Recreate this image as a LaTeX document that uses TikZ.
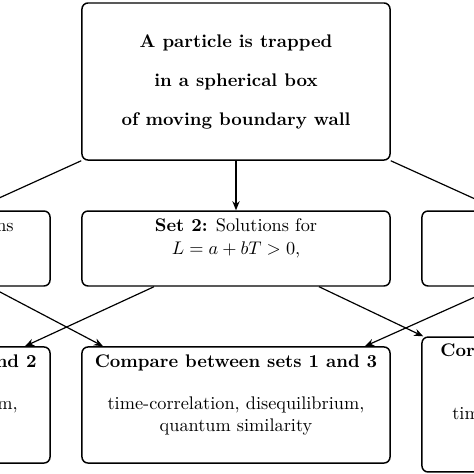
\documentclass[tikz,border=0pt]{standalone}
\usetikzlibrary{arrows.meta,calc}
\begin{document}
\begin{tikzpicture}[x={(0.547pt,0)},y={(0,-0.547pt)},
  box/.style={draw,rounded corners=3.3pt,line width=0.8pt,inner sep=0pt,minimum width=168.5pt},
  txt/.style={inner sep=0pt,font=\fontsize{10}{12}\selectfont},
  conn/.style={line width=0.65pt,-{Stealth[length=5pt,width=4pt]}}]
\useasboundingbox (0,0) rectangle (474,474);
\clip (0,0) rectangle (474,474);
% boxes
\node[box,minimum height=85.9pt] (top) at (236,81.5) {};
\node[box,minimum height=41pt] (set1) at (-104,248.5) {};
\node[box,minimum height=41pt] (set2) at (236,248.5) {};
\node[box,minimum height=41pt] (set3) at (576,248.5) {};
\node[box,minimum height=63.5pt] (cmp12) at (-104,405) {};
\node[box,minimum height=63.5pt] (cmp13) at (236,405) {};
\node[box,minimum height=73.8pt] (cmp23) at (576,404.5) {};
% texts
\node[txt,anchor=base] (t1) at (236,47) {\textbf{A particle is trapped}};
\node[txt,anchor=base] (t2) at (236,86) {\textbf{in a spherical box}};
\node[txt,anchor=base] (t3) at (236,125) {\textbf{of moving boundary wall}};
\node[txt,anchor=base east] (s1) at (14,231.7) {ns};
\node[txt,anchor=base] (s2a) at (236,231.7) {\textbf{Set 2:} Solutions for};
\node[txt,anchor=base] (s2b) at (236,254) {$L=a+bT>0$,};
\node[txt,anchor=base east] (c12a) at (37,367.7) {\textbf{nd 2}};
\node[txt,anchor=base east] (c12b) at (18,409) {m,};
\node[txt,anchor=base] (c13a) at (236,367.7) {\textbf{Compare between sets 1 and 3}};
\node[txt,anchor=base] (c13b) at (236,409) {time-correlation, disequilibrium,};
\node[txt,anchor=base] (c13c) at (236,431) {quantum similarity};
\node[txt,anchor=base west] (c23a) at (440,356.7) {\textbf{Cor}};
\node[txt,anchor=base west] (c23b) at (452,419) {tim};
% connectors
\draw[conn] (top.south) -- (set2.north);
\draw[conn] (top.south west) -- ($(set1.north)+(76,0)$);
\draw[conn] (top.south east) -- ($(set3.north)+(-76,0)$);
\draw[conn] ($(set2.south)+(-82,0)$) -- ($(cmp12.north)+(129,0)$);
\draw[conn] ($(set2.south)+(83,0)$) -- ($(cmp23.north west)+(2,0)$);
\draw[conn] ($(set1.south)+(94,0)$) -- ($(cmp13.north)+(-133,0)$);
\draw[conn] ($(set3.south)+(-78,0)$) -- ($(cmp13.north)+(129,0)$);
\end{tikzpicture}
\end{document}
